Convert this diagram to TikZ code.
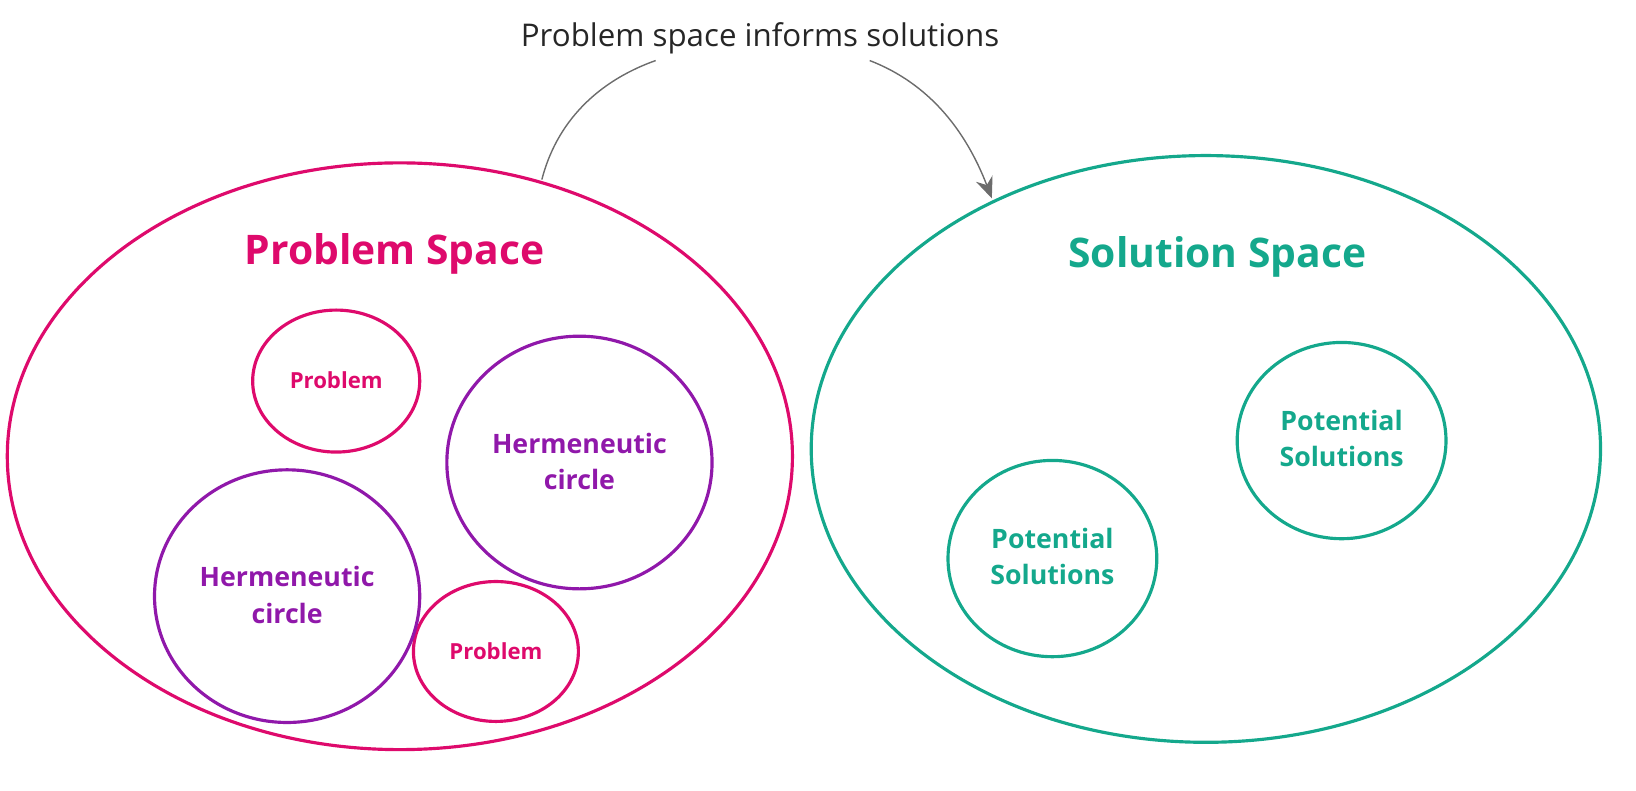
\documentclass[tikz,border=0pt]{standalone}
\usepackage{fontspec}
\setmainfont{Open Sans}
\usetikzlibrary{arrows.meta}
\definecolor{pink}{HTML}{DE0A6C}
\definecolor{teal}{HTML}{14A88C}
\definecolor{purp}{HTML}{9018AA}
\begin{document}
\begin{tikzpicture}[x=0.01044cm,y=-0.01044cm,
  ring/.style={line width=0.9pt},
  lbl/.style={font=\bfseries\fontsize{6.3}{7.5}\selectfont,align=center}]
\useasboundingbox (0,0) rectangle (1567,757);
\draw[ring,pink] (383,437) ellipse [x radius=376,y radius=281];
\draw[ring,teal] (1155,430) ellipse [x radius=378,y radius=281];
\draw[ring,pink] (322,365) ellipse [x radius=80,y radius=68];
\draw[ring,pink] (475,624) ellipse [x radius=79,y radius=67];
\draw[ring,purp] (555,443) ellipse [x radius=127,y radius=121];
\draw[ring,purp] (275,571) ellipse [x radius=127,y radius=121];
\draw[ring,teal] (1285,422) ellipse [x radius=100,y radius=94];
\draw[ring,teal] (1008,535) ellipse [x radius=100,y radius=94];
\node[font=\bfseries\fontsize{11.6}{13}\selectfont,text=pink] (ps) at (378,243) {Problem Space};
\node[font=\bfseries\fontsize{11.6}{13}\selectfont,text=teal] (ss) at (1166,246) {Solution Space};
\node[lbl,text=pink] (p1) at (322,364) {Problem};
\node[lbl,text=pink] (p2) at (475,624) {Problem};
\node[lbl,font=\bfseries\fontsize{7.6}{10.4}\selectfont,text=purp] (h1) at (555,442) {Hermeneutic\\circle};
\node[lbl,font=\bfseries\fontsize{7.6}{10.4}\selectfont,text=purp] (h2) at (275,570) {Hermeneutic\\circle};
\node[lbl,font=\bfseries\fontsize{7.6}{10.4}\selectfont,text=teal] (s1) at (1285,420) {Potential\\Solutions};
\node[lbl,font=\bfseries\fontsize{7.6}{10.4}\selectfont,text=teal] (s2) at (1008,533) {Potential\\Solutions};
\node[font=\fontsize{8.9}{10}\selectfont,text=black!85] (t) at (728,37) {Problem space informs solutions};
\coordinate (a) at (519,172);
\coordinate (b) at (950,190);
\coordinate (c) at (628,58);
\coordinate (d) at (833,58);
\draw[gray!85!black,line width=0.4pt] (a) .. controls (535,110) and (580,75) .. (c);
\draw[gray!85!black,line width=0.4pt,-{Stealth[length=6pt,width=5pt]}] (d) .. controls (890,80) and (925,125) .. (b);
\end{tikzpicture}
\end{document}
